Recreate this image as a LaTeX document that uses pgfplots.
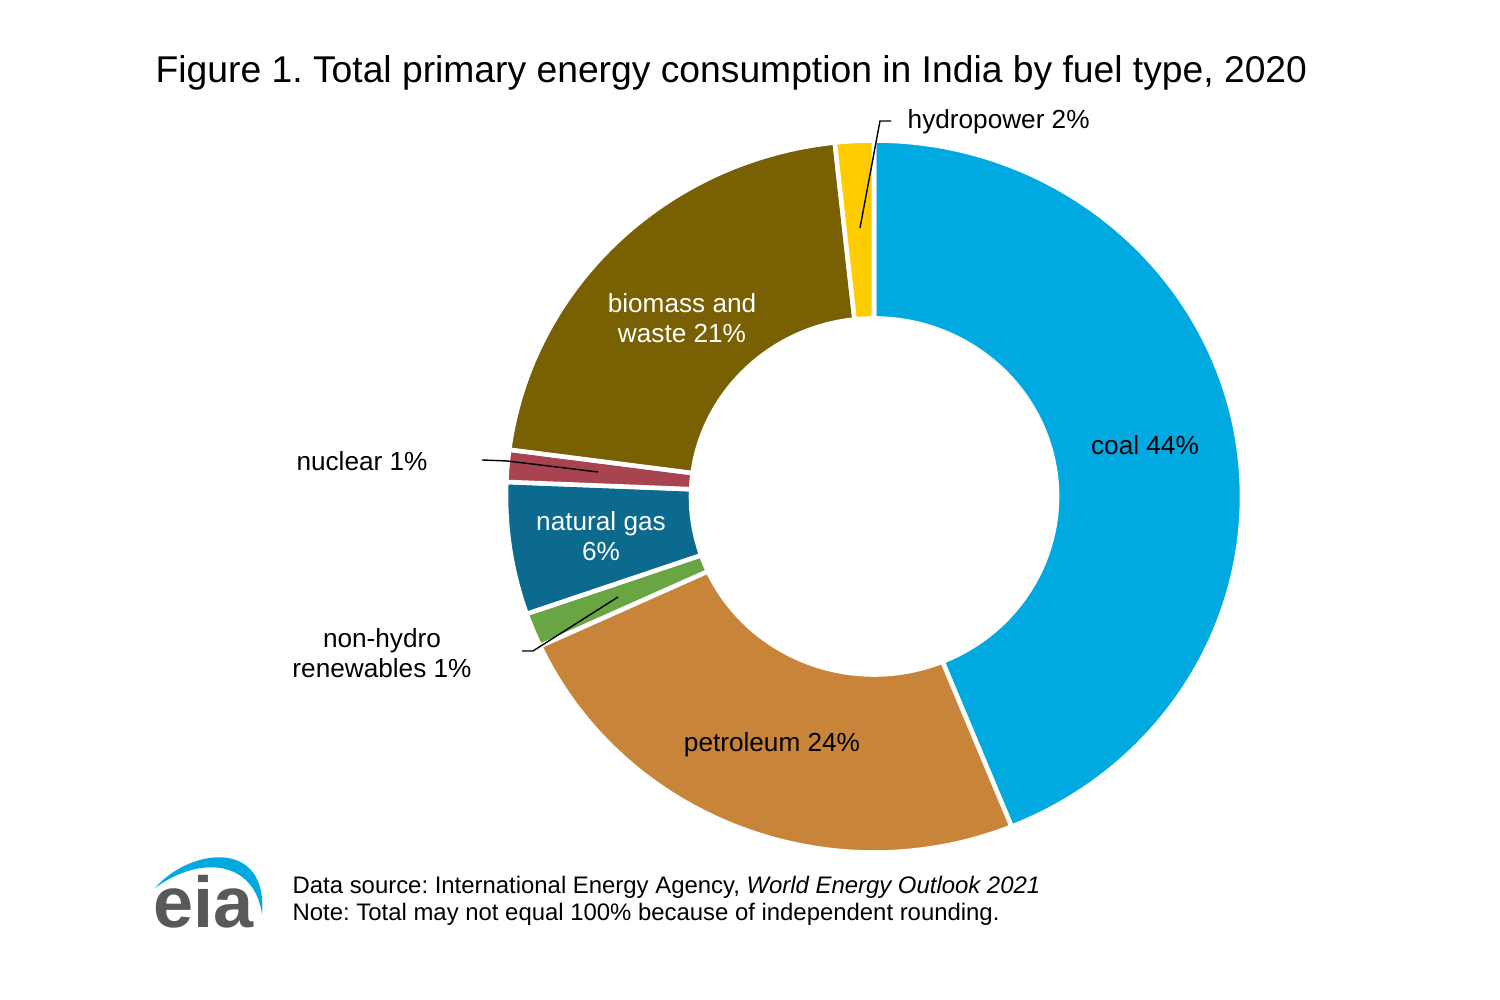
\documentclass[border=0pt]{standalone}
\usepackage{pgfplots}
\pgfplotsset{compat=1.18}
\usepackage{pgfplotstable}
\usepackage{fontspec}
\setmainfont{Liberation Sans}
\frenchspacing

\definecolor{c0}{HTML}{00A9E0}% coal
\definecolor{c1}{HTML}{C8853A}% petroleum
\definecolor{c2}{HTML}{6AA543}% non-hydro renewables
\definecolor{c3}{HTML}{0C6A8E}% natural gas
\definecolor{c4}{HTML}{A84350}% nuclear
\definecolor{c5}{HTML}{786003}% biomass and waste
\definecolor{c6}{HTML}{FFCC00}% hydropower
\definecolor{eiagrey}{HTML}{58595B}

% shares (%), clockwise from 12 o'clock
\pgfplotstableread[col sep=comma]{
fuel,share
coal,43.9
petroleum,24.2
renewables,1.55
gas,6.0
nuclear,1.45
biomass,21.2
hydro,1.7
}\energytable

\begin{document}
\begin{tikzpicture}
\begin{axis}[
  scale only axis, width=15cm, height=10cm,
  xmin=0, xmax=1500, ymin=0, ymax=1000,
  hide axis, clip=false]
\path (axis cs:0,0) rectangle (axis cs:1500,1000);

% donut wedges from the table
\pgfmathsetmacro\cum{0}
\pgfplotsforeachungrouped \i in {0,...,6} {
  \pgfplotstablegetelem{\i}{share}\of\energytable
  \pgfmathsetmacro\sa{90-3.6*\cum}
  \pgfmathsetmacro\cum{\cum+\pgfplotsretval}
  \pgfmathsetmacro\ea{90-3.6*\cum}
  \edef\temp{\noexpand\fill[c\i, draw=white, line width=1.3pt, line join=round,
      shift={(axis cs:874,503.5)}]
    (\sa:3.68cm and 3.56cm)
    arc[start angle=\sa, end angle=\ea, x radius=3.68cm, y radius=3.56cm]
    -- (\ea:1.83cm and 1.78cm)
    arc[start angle=\ea, end angle=\sa, x radius=1.83cm, y radius=1.78cm]
    -- cycle;}
  \temp
}

% title
\node[anchor=base west, font=\fontsize{10.6}{12.7}\selectfont, inner sep=0pt]
  at (axis cs:155,917) {Figure 1. Total primary energy consumption in India by fuel type, 2020};

% segment labels
\begin{scope}[every node/.style={font=\fontsize{7.45}{8.6}\selectfont, align=center, inner sep=0pt}]
\node[black] at (axis cs:1145,555) {coal 44\%};
\node[black] at (axis cs:772,255) {petroleum 24\%};
\node[white] at (axis cs:682,682) {biomass and\\waste 21\%};
\node[white] at (axis cs:601,464) {natural gas\\6\%};
\node[black] at (axis cs:362,539) {nuclear 1\%};
\node[black] at (axis cs:382,347) {non-hydro\\renewables 1\%};
\node[black, anchor=west] at (axis cs:907,878) {hydropower 2\%};
\end{scope}

% leader lines
\draw[black, line width=0.4pt] (axis cs:860,772) -- (axis cs:880,879) -- (axis cs:891,879);
\draw[black, line width=0.4pt] (axis cs:482,540) -- (axis cs:507,539) -- (axis cs:598,528);
\draw[black, line width=0.4pt] (axis cs:522,349) -- (axis cs:533,349) -- (axis cs:618,403);

% footer
\node[anchor=base west, font=\fontsize{6.8}{8}\selectfont, inner sep=0pt]
  at (axis cs:292,106) {Data source: International Energy Agency, \textit{World Energy Outlook 2021}};
\node[anchor=base west, font=\fontsize{6.8}{8}\selectfont, inner sep=0pt]
  at (axis cs:292,79) {Note: Total may not equal 100\% because of independent rounding.};

% eia logo
\fill[c0] (axis cs:155,112) .. controls (axis cs:190,152) and (axis cs:268,162) ..
  (axis cs:262,86) .. controls (axis cs:254,140) and (axis cs:200,145) .. cycle;
\node[anchor=base west, font=\fontsize{20.5}{22}\selectfont\bfseries, text=eiagrey, inner sep=0pt]
  at (axis cs:153,72) {eia};
\end{axis}
\end{tikzpicture}
\end{document}
